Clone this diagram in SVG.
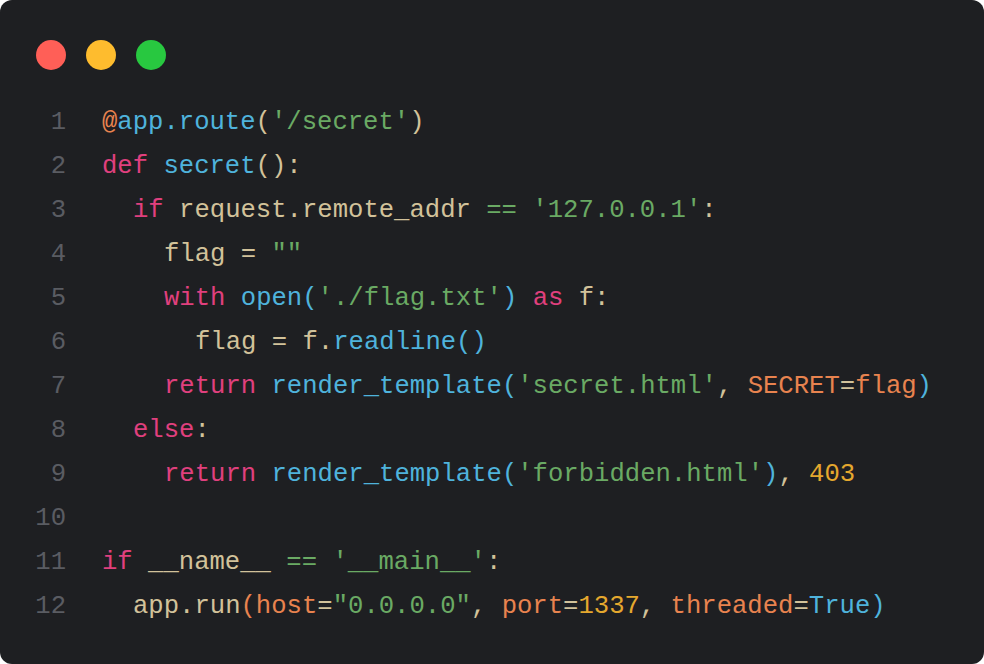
<svg xmlns="http://www.w3.org/2000/svg" width="984" height="664" viewBox="0 0 984 664">
<style>
text{font-family:"Liberation Mono","DejaVu Sans Mono",monospace;font-size:25.6px;white-space:pre}
.n{fill:#5a5c62;text-anchor:end}
.k{fill:#e0407e}.b{fill:#4fb3dc}.g{fill:#6aaa64}.o{fill:#e8834f}.y{fill:#e5a82e}.p{fill:#d2c29a}
</style>
<rect x="0" y="0" width="984" height="664" rx="12" fill="#1e1f22"/>
<g id="dots"><circle cx="51" cy="55" r="15" fill="#ff5f57"/><circle cx="101" cy="55" r="15" fill="#febc2e"/><circle cx="151" cy="55" r="15" fill="#28c840"/></g>
<g id="nums">
<text class="n" x="66" y="129">1</text><text class="n" x="66" y="173">2</text><text class="n" x="66" y="217">3</text><text class="n" x="66" y="261">4</text><text class="n" x="66" y="305">5</text><text class="n" x="66" y="349">6</text><text class="n" x="66" y="393">7</text><text class="n" x="66" y="437">8</text><text class="n" x="66" y="481">9</text><text class="n" x="66" y="525">10</text><text class="n" x="66" y="569">11</text><text class="n" x="66" y="613">12</text>
</g>
<g id="code" xml:space="preserve">
<text x="102" y="129"><tspan class="o">@</tspan><tspan class="b">app.route</tspan><tspan class="p">(</tspan><tspan class="g">'/secret'</tspan><tspan class="p">)</tspan></text>
<text x="102" y="173"><tspan class="k">def</tspan> <tspan class="b">secret</tspan><tspan class="p">():</tspan></text>
<text x="133" y="217"><tspan class="k">if</tspan><tspan class="p"> request.remote_addr </tspan><tspan class="g">==</tspan> <tspan class="g">'127.0.0.1'</tspan><tspan class="p">:</tspan></text>
<text x="164" y="261"><tspan class="p">flag = </tspan><tspan class="g">""</tspan></text>
<text x="164" y="305"><tspan class="k">with</tspan> <tspan class="b">open(</tspan><tspan class="g">'./flag.txt'</tspan><tspan class="b">)</tspan> <tspan class="k">as</tspan><tspan class="p"> f:</tspan></text>
<text x="195" y="349"><tspan class="p">flag = f.</tspan><tspan class="b">readline()</tspan></text>
<text x="164" y="393"><tspan class="k">return</tspan> <tspan class="b">render_template(</tspan><tspan class="g">'secret.html'</tspan><tspan class="p">, </tspan><tspan class="o">SECRET</tspan><tspan class="p">=</tspan><tspan class="o">flag</tspan><tspan class="b">)</tspan></text>
<text x="133" y="437"><tspan class="k">else</tspan><tspan class="p">:</tspan></text>
<text x="164" y="481"><tspan class="k">return</tspan> <tspan class="b">render_template(</tspan><tspan class="g">'forbidden.html'</tspan><tspan class="b">)</tspan><tspan class="p">, </tspan><tspan class="y">403</tspan></text>
<text x="102" y="569"><tspan class="k">if</tspan><tspan class="p"> __name__ </tspan><tspan class="g">==</tspan> <tspan class="g">'__main__'</tspan><tspan class="p">:</tspan></text>
<text x="133" y="613"><tspan class="p">app.run</tspan><tspan class="o">(host</tspan><tspan class="p">=</tspan><tspan class="g">"0.0.0.0"</tspan><tspan class="p">, </tspan><tspan class="o">port</tspan><tspan class="p">=</tspan><tspan class="y">1337</tspan><tspan class="p">, </tspan><tspan class="o">threaded</tspan><tspan class="p">=</tspan><tspan class="b">True)</tspan></text>
</g>
</svg>
